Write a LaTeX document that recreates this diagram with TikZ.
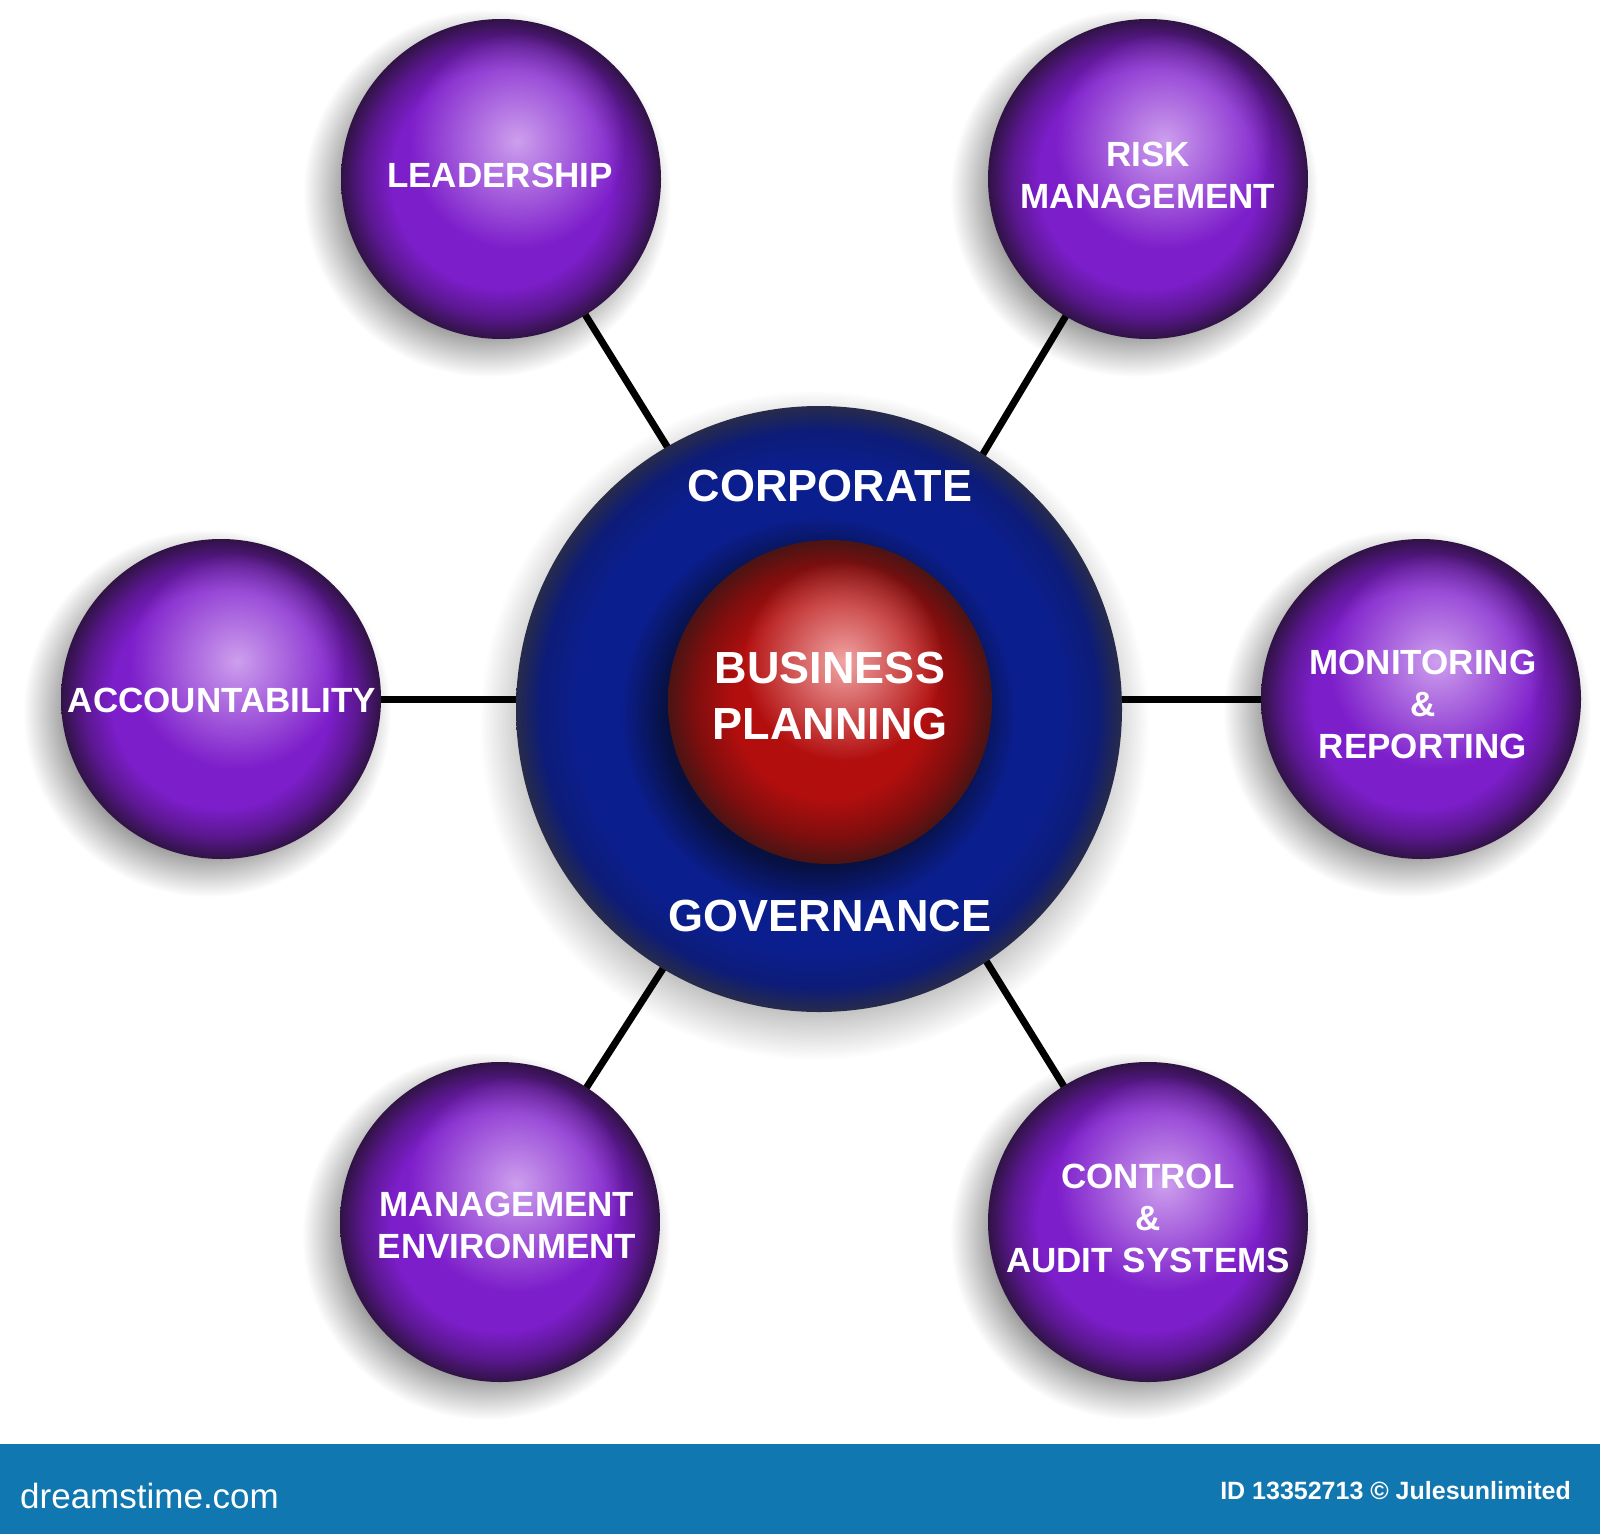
\documentclass[tikz,border=0pt]{standalone}
\usepackage{fontspec}
\setmainfont{Liberation Sans}
\usetikzlibrary{fadings}
\definecolor{pbody}{HTML}{7D1ECB}
\definecolor{pmid}{HTML}{5A178E}
\definecolor{prim}{HTML}{301345}
\definecolor{phl}{HTML}{D2A6F0}
\definecolor{bbody}{HTML}{0B1E8E}
\definecolor{bmid}{HTML}{0D1C78}
\definecolor{brim}{HTML}{272B4A}
\definecolor{bshadow}{HTML}{07103E}
\definecolor{rbody}{HTML}{B20E0E}
\definecolor{rmid}{HTML}{7E0E0E}
\definecolor{rrim}{HTML}{4A1414}
\definecolor{rhl}{HTML}{F2A4A4}
\definecolor{shd}{HTML}{8A8A8A}
\definecolor{footerblue}{HTML}{1077B0}
\pgfdeclareradialshading{purpleball}{\pgfpointorigin}{color(0bp)=(pbody); color(17bp)=(pbody); color(21.5bp)=(pmid); color(25bp)=(prim); color(50bp)=(prim)}
\pgfdeclareradialshading{blueball}{\pgfpointorigin}{color(0bp)=(bbody); color(20bp)=(bbody); color(23bp)=(bmid); color(25bp)=(brim); color(50bp)=(brim)}
\pgfdeclareradialshading{redball}{\pgfpointorigin}{color(0bp)=(rbody); color(15bp)=(rbody); color(21bp)=(rmid); color(25bp)=(rrim); color(50bp)=(rrim)}
\pgfdeclareradialshading{softshadow}{\pgfpointorigin}{color(0bp)=(shd); color(18bp)=(shd); color(25bp)=(white); color(50bp)=(white)}
\pgfdeclareradialshading{innershadow}{\pgfpointorigin}{color(0bp)=(bshadow); color(19bp)=(bshadow); color(25bp)=(bbody); color(50bp)=(bbody)}
\tikzfading[name=glowfade, inner color=transparent!0, outer color=transparent!100]
\begin{document}
\begin{tikzpicture}[x=1pt,y=-1pt,
  ball/.style={circle, inner sep=0pt, minimum size=320pt, shading=purpleball},
  conn/.style={draw=black, line width=7pt},
  lbl/.style={text=white, font=\bfseries\fontsize{35}{42}\selectfont, align=center, inner sep=0pt},
  biglbl/.style={text=white, font=\bfseries\fontsize{45}{56}\selectfont, align=center, inner sep=0pt},
  foot/.style={text=white, inner sep=0pt}]
\useasboundingbox (0,0) rectangle (1600,1534);
\fill[white] (0,0) rectangle (1600,1534);
% centres
\coordinate (lead) at (501,179);
\coordinate (risk) at (1148,179);
\coordinate (acc) at (221,699);
\coordinate (mon) at (1421,699);
\coordinate (menv) at (500,1222);
\coordinate (ctrl) at (1148,1222);
\coordinate (hub) at (830,709);
\coordinate (redc) at (830,702);
% shadows
\foreach \c in {lead,risk,acc,mon,menv,ctrl}
  \path[shading=softshadow] ([shift={(-14,14)}]\c) circle (184pt);
\path[shading=softshadow] ([shift={(-16,16)}]hub) circle (335pt);
% connectors
\draw[conn] (lead) -- (hub);
\draw[conn] (risk) -- (hub);
\draw[conn] (menv) -- (hub);
\draw[conn] (ctrl) -- (hub);
\draw[conn] (acc) -- (acc -| hub);
\draw[conn] (mon) -- (mon -| hub);
% central rings
\node[circle, inner sep=0pt, minimum size=606pt, shading=blueball] (blue) at (819,709) {};
\path[shading=innershadow] ([shift={(-12,12)}]redc) circle (198pt);
\node[circle, inner sep=0pt, minimum size=324pt, shading=redball] (red) at (redc) {};
\fill[rhl, path fading=glowfade] ([shift={(13,-41)}]redc) circle (100pt);
% outer balls
\foreach \c in {lead,risk,acc,mon,menv,ctrl}{
  \node[ball] (\c B) at (\c) {};
  \fill[phl, path fading=glowfade, opacity=0.95] ([shift={(16,-38)}]\c) circle (108pt);
}
% labels
\node[lbl] (leadT) at (500,175) {LEADERSHIP};
\node[lbl] (riskT) at (1148,175) {RISK\\MANAGEMENT};
\node[lbl] (accT) at (222,700) {ACCOUNTABILITY};
\node[lbl] (monT) at (1423,704) {MONITORING\\\&\\REPORTING};
\node[lbl] (menvT) at (507,1225) {MANAGEMENT\\ENVIRONMENT};
\node[lbl] (ctrlT) at (1148,1218) {CONTROL\\\&\\AUDIT SYSTEMS};
\node[biglbl] (corpT) at (830,486) {CORPORATE};
\node[biglbl] (govT) at (830,916) {GOVERNANCE};
\node[biglbl] (bpT) at (830,696) {BUSINESS\\PLANNING};
% footer
\fill[footerblue] (0,1444) rectangle (1600,1534);
\node[foot, anchor=west, font=\fontsize{35}{40}\selectfont] (dsT) at (20,1496) {dreamstime.com};
\node[foot, anchor=east, font=\bfseries\fontsize{25}{30}\selectfont] (idT) at (1571,1491) {ID 13352713 © Julesunlimited};
\end{tikzpicture}
\end{document}
